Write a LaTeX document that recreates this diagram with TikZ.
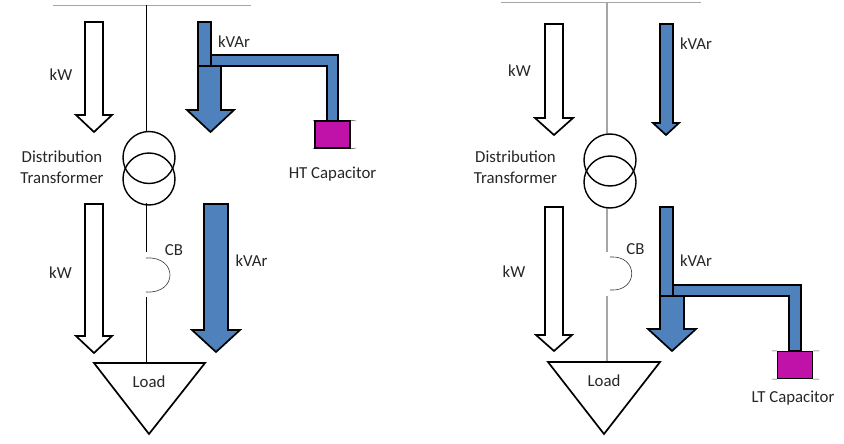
\documentclass[tikz,border=0pt]{standalone}
\usepackage{fontspec}
\setmainfont{Carlito}
\definecolor{flowblue}{HTML}{4F81BD}
\definecolor{capmag}{HTML}{C012A8}
\definecolor{busgray}{HTML}{A6A6A6}
\tikzset{
  lbl/.style={font=\fontsize{16.8}{18}\selectfont, text=black!85, inner sep=0pt},
  bus/.style={busgray, line width=1pt},
  feeder/.style={black, line width=0.7pt},
  feedergray/.style={busgray, line width=1.3pt},
  coil/.style={circle, draw=black, line width=1.4pt, minimum size=52pt, inner sep=0pt},
  real/.style={draw=black, fill=white, line width=1.7pt, line join=miter},
  reactive/.style={draw=black, fill=flowblue, line width=1.7pt, line join=miter},
  capbox/.style={draw=black, fill=capmag, line width=1.5pt, minimum width=35pt, minimum height=27pt, inner sep=0pt},
  capline/.style={black!70, line width=0.5pt},
  breaker/.style={black!80, line width=0.6pt},
}
\newcommand{\downarrowshape}[8]{% style, shaft x1, x2, top y, head y, head x1, x2, tip y
  \draw[#1] (#2,#4) -- (#3,#4) -- (#3,#5) -- (#7,#5) -- ({(#6+#7)/2},#8) -- (#6,#5) -- (#2,#5) -- cycle;
}
\begin{document}
\begin{tikzpicture}[x=1pt,y=-1pt]
\useasboundingbox (0,0) rectangle (844,444);

% left panel, HT capacitor
\coordinate (lbusa) at (53,5.5);
\coordinate (lbusb) at (251,5.5);
\coordinate (lfa) at (146,5.5);
\coordinate (lfb) at (146,132);
\coordinate (lfc) at (146,203);
\coordinate (lfd) at (146,252);
\coordinate (lfe) at (146,297);
\coordinate (lff) at (146,363);
\coordinate (lcba) at (146,258);
\coordinate (lcbb) at (146,292);
\draw[bus] (lbusa) -- (lbusb);
\draw[feeder] (lfa) -- (lfb);
\draw[feeder] (lfc) -- (lfd);
\draw[feeder] (lfe) -- (lff);
\draw[breaker] (lcba) .. controls (178,256) and (178,294) .. (lcbb);

\node[coil] (lt1) at (149,157.5) {};
\node[coil] (lt2) at (149,179) {};

\downarrowshape{real}{85}{103}{22}{115}{76}{112}{132}
\downarrowshape{real}{85}{103}{204}{336}{76}{112}{353}

\draw[reactive] (198,22) -- (211,22) -- (211,66) -- (198,66) -- cycle;
\draw[reactive] (211,55) -- (338,55) -- (338,121) -- (327,121) -- (327,66) -- (211,66) -- cycle;
\downarrowshape{reactive}{198}{221}{66}{110}{187}{234}{132}
\downarrowshape{reactive}{204}{228}{204}{330}{192}{240}{352}

\node[capbox] (lcap) at (332.5,134.5) {};
\draw[capline] (313,121) -- (lcap.north west) (lcap.north east) -- (356,121);
\draw[capline] (313,148) -- (lcap.south west) (lcap.south east) -- (356,148);

\draw[real] (94,363) -- (205,363) -- (149,434) -- cycle;

\node[lbl] (lkw1) at (61,74.5) {kW};
\node[lbl] (lkv1) at (234,42) {kVAr};
\node[lbl] (ldt1) at (62,157) {Distribution};
\node[lbl] (ldt2) at (62,178) {Transformer};
\node[lbl] (lht) at (332.5,174) {HT Capacitor};
\node[lbl] (lkw2) at (60.5,273) {kW};
\node[lbl] (lcb) at (174,250.5) {CB};
\node[lbl] (lkv2) at (251.5,261) {kVAr};
\node[lbl] (lload) at (149,381.5) {Load};

% right panel, LT capacitor
\coordinate (rbusa) at (501,2.5);
\coordinate (rbusb) at (701,2.5);
\coordinate (rfa) at (607,2.5);
\coordinate (rfb) at (607,135);
\coordinate (rfc) at (607,207);
\coordinate (rfd) at (607,252);
\coordinate (rfe) at (607,296);
\coordinate (rff) at (607,362);
\coordinate (rcba) at (610,257);
\coordinate (rcbb) at (610,290);
\draw[bus] (rbusa) -- (rbusb);
\draw[feedergray] (rfa) -- (rfb);
\draw[feedergray] (rfc) -- (rfd);
\draw[feedergray] (rfe) -- (rff);
\draw[breaker] (rcba) .. controls (639,255) and (639,292) .. (rcbb);

\node[coil] (rt1) at (610,160) {};
\node[coil] (rt2) at (610,182) {};

\downarrowshape{real}{545}{563}{24}{118}{535}{573}{135}
\downarrowshape{real}{545}{563}{207}{335}{536}{572}{351}
\downarrowshape{reactive}{660}{673}{24}{123}{653}{679}{135}

\draw[reactive] (660,207) -- (673,207) -- (673,296) -- (660,296) -- cycle;
\draw[reactive] (673,285) -- (801,285) -- (801,351) -- (789,351) -- (789,296) -- (673,296) -- cycle;
\downarrowshape{reactive}{660}{684}{296}{329}{648}{696}{351}

\node[capbox] (rcap) at (795,365) {};
\draw[capline] (772,351) -- (rcap.north west) (rcap.north east) -- (819,351);
\draw[capline] (772,379) -- (rcap.south west) (rcap.south east) -- (819,379);

\draw[real] (548,362) -- (660,362) -- (604,434) -- cycle;

\node[lbl] (rkw1) at (519.5,71) {kW};
\node[lbl] (rkv1) at (696,43.5) {kVAr};
\node[lbl] (rdt1) at (515.5,157) {Distribution};
\node[lbl] (rdt2) at (515.5,178) {Transformer};
\node[lbl] (rkw2) at (514,272) {kW};
\node[lbl] (rcb) at (635.5,249) {CB};
\node[lbl] (rkv2) at (696,261) {kVAr};
\node[lbl] (rload) at (604,381) {Load};
\node[lbl] (rlt) at (793,398.5) {LT Capacitor};
\end{tikzpicture}
\end{document}
